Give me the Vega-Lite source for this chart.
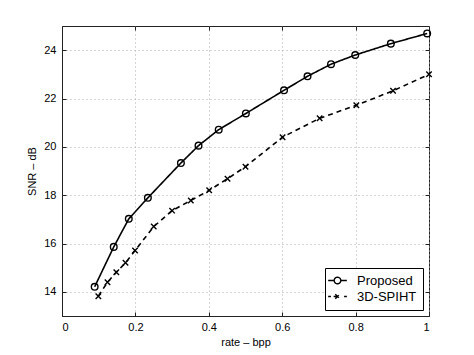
{
  "$schema": "https://vega.github.io/schema/vega-lite/v6.json",
  "width": 367,
  "height": 290,
  "autosize": "none",
  "padding": {"left": 62, "top": 26, "right": 45, "bottom": 39},
  "background": "white",
  "config": {
    "font": "Liberation Sans",
    "view": {"stroke": "#222", "strokeWidth": 1},
    "axis": {
      "labelFont": "Liberation Sans",
      "titleFont": "Liberation Sans",
      "labelFontSize": 11,
      "titleFontSize": 11,
      "titleFontWeight": "normal",
      "labelColor": "#000",
      "titleColor": "#000",
      "domainColor": "#222",
      "tickColor": "#222",
      "gridColor": "#aaa",
      "gridDash": [1, 3],
      "gridWidth": 1
    },
    "legend": {
      "labelFont": "Liberation Sans",
      "labelFontSize": 13,
      "labelColor": "#000"
    }
  },
  "data": {
    "values": [
      {"series": "Proposed", "rate": 0.089, "snr": 14.21},
      {"series": "Proposed", "rate": 0.141, "snr": 15.86},
      {"series": "Proposed", "rate": 0.182, "snr": 17.02},
      {"series": "Proposed", "rate": 0.234, "snr": 17.89},
      {"series": "Proposed", "rate": 0.324, "snr": 19.33},
      {"series": "Proposed", "rate": 0.372, "snr": 20.05},
      {"series": "Proposed", "rate": 0.427, "snr": 20.71},
      {"series": "Proposed", "rate": 0.501, "snr": 21.38},
      {"series": "Proposed", "rate": 0.605, "snr": 22.34},
      {"series": "Proposed", "rate": 0.669, "snr": 22.92},
      {"series": "Proposed", "rate": 0.733, "snr": 23.42},
      {"series": "Proposed", "rate": 0.799, "snr": 23.8},
      {"series": "Proposed", "rate": 0.896, "snr": 24.27},
      {"series": "Proposed", "rate": 0.995, "snr": 24.69},
      {"series": "3D-SPIHT", "rate": 0.099, "snr": 13.82},
      {"series": "3D-SPIHT", "rate": 0.124, "snr": 14.4},
      {"series": "3D-SPIHT", "rate": 0.148, "snr": 14.81},
      {"series": "3D-SPIHT", "rate": 0.173, "snr": 15.2},
      {"series": "3D-SPIHT", "rate": 0.199, "snr": 15.71},
      {"series": "3D-SPIHT", "rate": 0.25, "snr": 16.7},
      {"series": "3D-SPIHT", "rate": 0.3, "snr": 17.36},
      {"series": "3D-SPIHT", "rate": 0.351, "snr": 17.78},
      {"series": "3D-SPIHT", "rate": 0.401, "snr": 18.2},
      {"series": "3D-SPIHT", "rate": 0.451, "snr": 18.68},
      {"series": "3D-SPIHT", "rate": 0.5, "snr": 19.18},
      {"series": "3D-SPIHT", "rate": 0.601, "snr": 20.4},
      {"series": "3D-SPIHT", "rate": 0.702, "snr": 21.18},
      {"series": "3D-SPIHT", "rate": 0.802, "snr": 21.72},
      {"series": "3D-SPIHT", "rate": 0.902, "snr": 22.32},
      {"series": "3D-SPIHT", "rate": 1.0, "snr": 23.0}
    ]
  },
  "resolve": {"axis": {"x": "independent", "y": "independent"}},
  "layer": [
    {
      "mark": {"type": "line", "strokeWidth": 1.6},
      "encoding": {
        "x": {
          "field": "rate", "type": "quantitative",
          "scale": {"domain": [0, 1], "nice": false, "zero": false},
          "axis": {"orient": "bottom", "title": "rate – bpp", "values": [0, 0.2, 0.4, 0.6, 0.8, 1], "format": "~g", "tickSize": -4, "labelPadding": 9, "titlePadding": 4, "grid": true}
        },
        "y": {
          "field": "snr", "type": "quantitative",
          "scale": {"domain": [13, 25], "nice": false, "zero": false},
          "axis": {"orient": "left", "title": "SNR – dB", "values": [14, 16, 18, 20, 22, 24], "tickSize": -4, "labelPadding": 10, "titlePadding": 6, "grid": true}
        },
        "strokeDash": {
          "field": "series", "type": "nominal",
          "scale": {"domain": ["Proposed", "3D-SPIHT"], "range": [[1, 0], [5, 4]]},
          "legend": null
        },
        "color": {
          "field": "series", "type": "nominal",
          "scale": {"domain": ["Proposed", "3D-SPIHT"], "range": ["#000", "#000"]},
          "legend": {
            "title": null,
            "orient": "bottom-right",
            "offset": 6,
            "padding": 6,
            "strokeColor": "#000",
            "fillColor": "#fff",
            "symbolSize": 121,
            "symbolStrokeWidth": 1.4,
            "symbolFillColor": "transparent",
            "symbolStrokeColor": "#000",
            "symbolType": "M-1.7,0H-0.6M0.6,0H1.7M0.6,0A0.6,0.6 0 1,1 -0.6,0A0.6,0.6 0 1,1 0.6,0",
            "labelOffset": 13,
            "rowPadding": 2,
            "encoding": {
              "symbols": {
                "shape": {
                  "condition": {"test": "datum.value === 'Proposed'", "value": "M-1.7,0H-0.6M0.6,0H1.7M0.6,0A0.6,0.6 0 1,1 -0.6,0A0.6,0.6 0 1,1 0.6,0"},
                  "value": "M-1.7,0H-1.2M-0.7,0H0.7M-0.4,-0.4L0.4,0.4M-0.4,0.4L0.4,-0.4M1.2,0H1.7"
                },
                "strokeDash": {"value": [1, 0]}
              }
            }
          }
        }
      }
    },
    {
      "transform": [{"filter": "datum.series === 'Proposed'"}],
      "mark": {"type": "point", "shape": "circle", "size": 44, "filled": false, "strokeWidth": 1.4, "color": "#000", "opacity": 1},
      "encoding": {
        "x": {
          "field": "rate", "type": "quantitative",
          "axis": {"orient": "top", "title": null, "values": [0, 0.2, 0.4, 0.6, 0.8, 1], "labels": false, "tickSize": -4, "grid": false, "domain": false}
        },
        "y": {
          "field": "snr", "type": "quantitative",
          "axis": {"orient": "right", "title": null, "values": [14, 16, 18, 20, 22, 24], "labels": false, "tickSize": -4, "grid": false, "domain": false}
        }
      }
    },
    {
      "transform": [{"filter": "datum.series === '3D-SPIHT'"}],
      "mark": {"type": "point", "shape": "M-1,-1L1,1M-1,1L1,-1", "size": 30, "filled": false, "strokeWidth": 1.4, "color": "#000", "opacity": 1},
      "encoding": {
        "x": {"field": "rate", "type": "quantitative", "axis": null},
        "y": {"field": "snr", "type": "quantitative", "axis": null}
      }
    }
  ]
}
